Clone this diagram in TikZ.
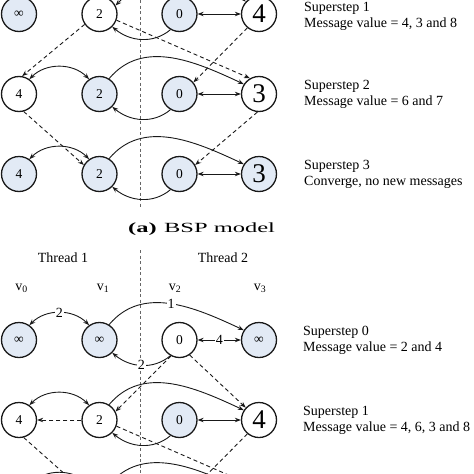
\documentclass[tikz,border=0pt]{standalone}
\usepackage{fontspec}
\setmainfont{Liberation Serif}
\usetikzlibrary{arrows.meta}
\definecolor{nodefill}{RGB}{226,234,245}
\definecolor{ink}{RGB}{25,25,25}
\begin{document}
\begin{tikzpicture}[x=1pt,y=1pt,
  >={Stealth[length=6pt,width=4.5pt]},
  vtx/.style={circle,draw=ink,line width=1.3pt,minimum size=35pt,inner sep=0pt,fill=white,font=\fontsize{13.5}{13.5}\selectfont},
  actv/.style={vtx,fill=nodefill},
  bignum/.style={font=\fontsize{27}{27}\selectfont},
  arrline/.style={->,draw=ink,line width=0.9pt},
  darrline/.style={<->,draw=ink,line width=0.9pt},
  msgline/.style={->,draw=ink,line width=0.9pt,dash pattern=on 4pt off 3pt},
  divider/.style={draw=black!60,line width=0.8pt,dash pattern=on 3pt off 2.5pt},
  edgelbl/.style={fill=white,inner sep=1pt,font=\fontsize{14}{14}\selectfont},
  steptext/.style={anchor=west,align=left,inner sep=0pt,font=\fontsize{14}{16}\selectfont},
  plain/.style={inner sep=0pt,font=\fontsize{14}{14}\selectfont}]
\useasboundingbox (0,0) rectangle (474,-474);
\clip (0,0) rectangle (474,-474);

% thread divider
\coordinate (dvA) at (140,0);
\coordinate (dvB) at (140,-207);
\coordinate (dvC) at (140,-250);
\coordinate (dvD) at (140,-474);
\draw[divider] (dvA) -- (dvB);
\draw[divider] (dvC) -- (dvD);

% ---------- BSP model ----------
\node[actv] (a0) at (19,-14) {∞};
\node[vtx] (a1) at (99.5,-14) {2};
\node[actv] (a2) at (179.5,-14) {0};
\node[vtx,bignum] (a3) at (259,-14) {4};

\node[vtx] (b0) at (19,-94) {4};
\node[actv] (b1) at (99.5,-94) {2};
\node[actv] (b2) at (179.5,-94) {0};
\node[vtx,bignum] (b3) at (259,-94) {3};

\node[actv] (c0) at (19,-174) {4};
\node[actv] (c1) at (99.5,-174) {2};
\node[actv] (c2) at (179.5,-174) {0};
\node[actv,bignum] (c3) at (259,-174) {3};

\node[steptext] (s1) at (304,-16.5) {Superstep 1\\Message value = 4, 3 and 8};
\node[steptext] (s2) at (304,-94) {Superstep 2\\Message value = 6 and 7};
\node[steptext] (s3) at (304,-174) {Superstep 3\\Converge, no new messages};

\node[plain,anchor=west] (capa) at (128,-229) {\scalebox{1.75}[1]{\textbf{(a)}\hspace{0.3em}BSP model}};

% messages from the superstep above (off the picture)
\coordinate (t1) at (171,50);
\coordinate (t3) at (189.6,51.1);
\draw[msgline] (t1) -- (a1.28);
\draw[msgline] (t3) -- (a3.137);

% superstep 1 edges
\draw[arrline] (a2.240) to[out=220,in=-40] (a1.-45);
\draw[darrline] (a2) -- (a3);
\draw[msgline] (a1.215) -- (b0.80);
\draw[msgline] (a1.-20) -- (b3.120);
\draw[msgline] (a3.230) -- (b2.40);

% superstep 2 edges
\draw[darrline] (b0.55) to[bend left=45] (b1.125);
\draw[arrline] (b1.58) to[out=50,in=155] (b3.147);
\draw[darrline] (b2) -- (b3);
\draw[arrline] (b2.240) to[out=220,in=-40] (b1.-45);
\draw[msgline] (b0.-75) -- (c1.150);
\draw[msgline] (b3.265) -- (c2.30);

% superstep 3 edges
\draw[darrline] (c0.55) to[bend left=45] (c1.125);
\draw[arrline] (c1.58) to[out=50,in=155] (c3.147);
\draw[darrline] (c2) -- (c3);
\draw[arrline] (c2.240) to[out=220,in=-40] (c1.-45);

% ---------- asynchronous model ----------
\node[plain] (th1) at (63,-258) {Thread 1};
\node[plain] (th2) at (223,-258) {Thread 2};
\node[plain] (v0) at (21.5,-288) {v\textsubscript{0}};
\node[plain] (v1) at (103,-288) {v\textsubscript{1}};
\node[plain] (v2) at (175,-288) {v\textsubscript{2}};
\node[plain] (v3) at (260,-288) {v\textsubscript{3}};

\node[actv] (d0) at (19,-340) {∞};
\node[actv] (d1) at (99.5,-340) {∞};
\node[vtx] (d2) at (179.5,-340) {0};
\node[actv] (d3) at (259,-340) {∞};

\node[vtx] (e0) at (19,-420) {4};
\node[vtx] (e1) at (99.5,-420) {2};
\node[actv] (e2) at (179.5,-420) {0};
\node[vtx,bignum] (e3) at (259,-420) {4};

\node[steptext] (s4) at (303,-340) {Superstep 0\\Message value = 2 and 4};
\node[steptext] (s5) at (303,-420) {Superstep 1\\Message value = 4, 6, 3 and 8};

% superstep 0 edges
\draw[darrline] (d0.55) to[bend left=45] node[edgelbl] {2} (d1.125);
\draw[arrline] (d1.58) to[out=50,in=155] node[edgelbl] {1} (d3.147);
\draw[darrline] (d2) -- node[edgelbl] {4} (d3);
\draw[arrline] (d2.240) to[out=220,in=-40] node[edgelbl] {2} (d1.-45);
\draw[msgline] (d2.242) -- (e1.28);
\draw[msgline] (d2.-56) -- (e3.137);

% superstep 1 edges
\draw[darrline] (e0.55) to[bend left=45] (e1.125);
\draw[arrline] (e1.58) to[out=50,in=155] (e3.147);
\draw[msgline] (e1) -- (e0);
\draw[darrline] (e2) -- (e3);
\draw[arrline] (e2.240) to[out=220,in=-40] (e1.-45);

% into the next superstep (off the picture)
\coordinate (f0a) at (29.3,-485.3);
\coordinate (f1a) at (89.2,-485.3);
\coordinate (f1b) at (109,-484.7);
\coordinate (f3a) at (243.9,-490.2);
\coordinate (f1in) at (83.9,-491);
\coordinate (f2in) at (193.3,-488.4);
\coordinate (f3in) at (250,-484.4);
\draw[msgline] (e1.-20) -- (f3in);
\draw[msgline] (e3.230) -- (f2in);
\draw[msgline] (e0.-75) -- (f1in);
\draw[darrline] (f0a) to[bend left=45] (f1a);
\draw[arrline] (f1b) to[out=50,in=155] (f3a);
\end{tikzpicture}
\end{document}
